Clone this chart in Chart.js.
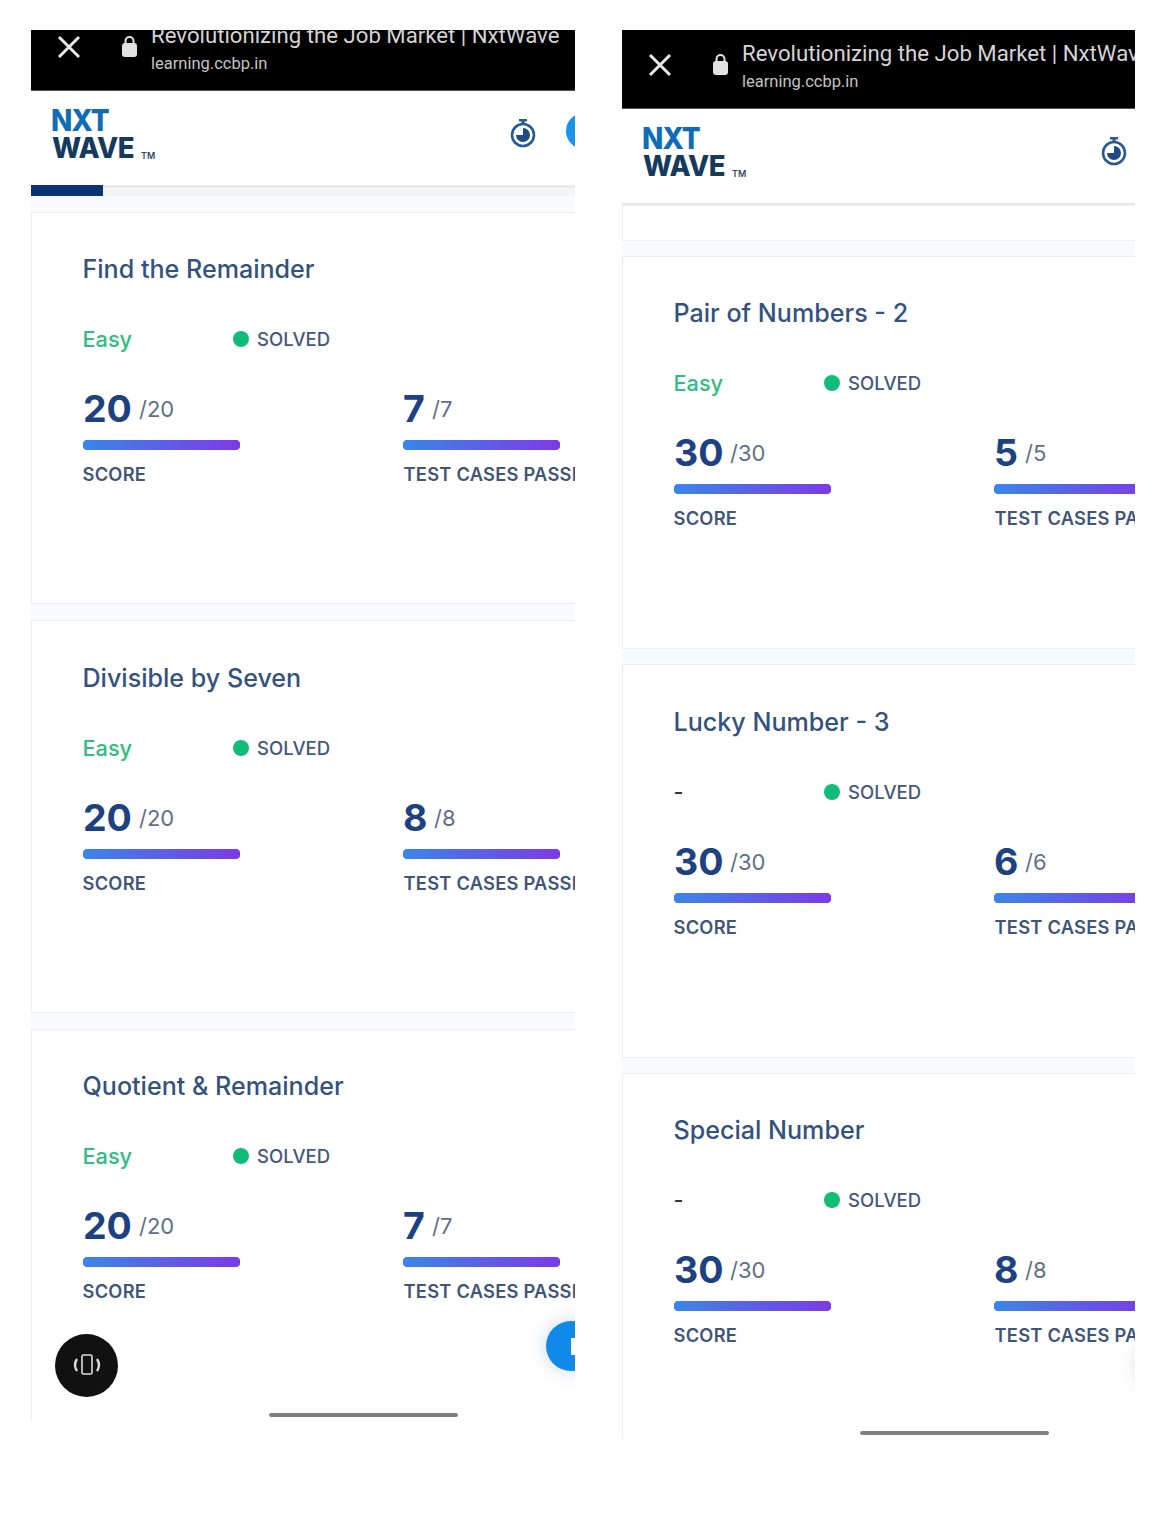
<!DOCTYPE html>
<html>
<head>
<meta charset="utf-8">
<script src="https://cdn.jsdelivr.net/npm/chart.js@4"></script>
<style>
html, body { margin: 0; padding: 0; background: #fff; }
body { width: 1164px; height: 1536px; position: relative; overflow: hidden; font-family: Inter, sans-serif; }
.panel { position: absolute; top: 30px; background: #f8fafe; overflow: hidden; filter: blur(0.55px); }
.panel div, .panel canvas, .panel svg { position: absolute; }
.t { white-space: nowrap; line-height: 1; }
.topbar { left: 0; top: 0; background: #000; border-bottom: 1px solid #555; box-sizing: border-box; }
.header { left: 0; background: #fff; }
.card { background: #fff; border: 1px solid #eaeff8; box-sizing: border-box; }
.title { font-size: 25.1px; font-weight: 500; color: #34527f; }
.level { font-size: 21.7px; font-weight: 500; color: #2fbd83; }
.solved { font-size: 18.5px; font-weight: 500; color: #44587c; letter-spacing: 0.05px; }
.dot { width: 16px; height: 16px; border-radius: 50%; background: #10bd78; }
.num { font-size: 37.5px; font-weight: 700; color: #1d4282; }
.den { font-size: 22px; color: #5f6f88; font-weight: 400; }
.cap { font-size: 18.3px; font-weight: 600; color: #3f5679; letter-spacing: 0.25px; }
.pagetitle { font-family: Roboto, sans-serif; font-size: 22.2px; color: #d4d4d4; }
.url { font-family: Roboto, sans-serif; font-size: 16.5px; color: #c4c4c4; }
.logo1 { font-size: 30px; font-weight: 800; color: #0f6db8; letter-spacing: -1px; transform: scaleX(0.93); transform-origin: left; line-height: 0.75; }
.logo2 { font-size: 29px; font-weight: 800; color: #143a5e; letter-spacing: -0.5px; transform: scaleX(0.95); transform-origin: left; line-height: 0.75; }
.tm { font-size: 9px; font-weight: 600; color: #33475f; }
.home { background: #808080; border-radius: 3px; height: 4px; width: 189px; }
</style>
</head>
<body>
<script>
// card data
const titles = ["Find the Remainder", "Divisible by Seven", "Quotient & Remainder", "Pair of Numbers - 2", "Lucky Number - 3", "Special Number"];
const levels = ["Easy", "Easy", "Easy", "Easy", "-", "-"];
const scores = [20, 20, 20, 30, 30, 30];
const scoreTotals = [20, 20, 20, 30, 30, 30];
const casesPassed = [7, 8, 7, 5, 6, 8];
const casesTotals = [7, 8, 7, 5, 6, 8];
const scoreLabel = "SCORE";
const casesLabel = "TEST CASES PASSED";
const statusLabel = "SOLVED";
const pageTitle = "Revolutionizing the Job Market | NxtWave";
const pageUrl = "learning.ccbp.in";

function add(parent, cls, css, text) {
    const el = document.createElement("div");
    el.className = cls;
    el.style.cssText = css;
    if (text !== undefined) el.textContent = text;
    parent.appendChild(el);
    return el;
}

function addSvg(parent, x, y, w, h, inner) {
    const holder = document.createElement("div");
    holder.style.cssText = `left:${x}px;top:${y}px;width:${w}px;height:${h}px`;
    holder.innerHTML = `<svg width="${w}" height="${h}" viewBox="0 0 ${w} ${h}" style="left:0;top:0">${inner}</svg>`;
    parent.appendChild(holder);
}

function progressBar(parent, x, y, value, total) {
    const canvas = document.createElement("canvas");
    canvas.style.cssText = `left:${x}px;top:${y}px;width:157px;height:10px`;
    canvas.width = 157;
    canvas.height = 10;
    parent.appendChild(canvas);
    new Chart(canvas, {
        type: "bar",
        data: {
            labels: [""],
            datasets: [{
                data: [value],
                barPercentage: 1,
                categoryPercentage: 1,
                borderRadius: 5,
                borderSkipped: false,
                backgroundColor: function(ctx) {
                    const area = ctx.chart.chartArea;
                    if (!area) return "#3b82e8";
                    const g = ctx.chart.ctx.createLinearGradient(area.left, 0, area.right, 0);
                    g.addColorStop(0, "#3a86e8");
                    g.addColorStop(1, "#7d3ae6");
                    return g;
                }
            }]
        },
        options: {
            indexAxis: "y",
            responsive: false,
            animation: false,
            layout: { padding: 0 },
            plugins: { legend: { display: false }, tooltip: { enabled: false } },
            scales: {
                x: { display: false, min: 0, max: total },
                y: { display: false }
            }
        }
    });
}

function addCard(panel, i, top, height, shift) {
    add(panel, "card", `left:0;top:${top}px;width:600px;height:${height}px`);
    const y = top + shift;
    add(panel, "t title", `left:51.5px;top:${y + 45}px`, titles[i]);
    const levelCss = levels[i] === "-" ? "color:#333;" : "";
    add(panel, "t level", `${levelCss}left:51.5px;top:${y + 116.5}px`, levels[i]);
    add(panel, "dot", `left:202px;top:${y + 119}px`);
    add(panel, "t solved", `left:226px;top:${y + 118}px`, statusLabel);

    add(panel, "t num", `left:52px;top:${y + 178}px`, scores[i]);
    add(panel, "t den", `left:108px;top:${y + 186}px`, "/" + scoreTotals[i]);
    progressBar(panel, 52, y + 228, scores[i], scoreTotals[i]);
    add(panel, "t cap", `left:51.5px;top:${y + 253}px`, scoreLabel);

    add(panel, "t num", `left:372px;top:${y + 178}px`, casesPassed[i]);
    add(panel, "t den", `left:${casesPassed[i] === 7 ? 401 : 403}px;top:${y + 186}px`, "/" + casesTotals[i]);
    progressBar(panel, 372, y + 228, casesPassed[i], casesTotals[i]);
    add(panel, "t cap", `left:372.5px;top:${y + 253}px`, casesLabel);
}

function addChrome(panel, barH) {
    add(panel, "topbar", `width:100%;height:${barH + 1}px`);
    const cy = barH - 44;
    addSvg(panel, 26, cy - 12 + 1, 24, 24, '<path d="M2 2 L22 22 M22 2 L2 22" stroke="#e8e8e8" stroke-width="3"/>');
    addSvg(panel, 90, cy - 12 + 1, 18, 24, '<rect x="1" y="8" width="15" height="14" rx="3" fill="#e2e2e2"/><path d="M4.5 9 V6 a4 4 0 0 1 8 0 V9" stroke="#e2e2e2" stroke-width="2" fill="none"/>');
    add(panel, "t pagetitle", `left:120px;top:${barH - 66}px`, pageTitle);
    add(panel, "t url", `left:120px;top:${barH - 34}px`, pageUrl);

    add(panel, "header", `top:${barH + 1}px;width:100%;height:94px`);
    add(panel, "t logo1", `left:20px;top:${barH + 19}px`, "NXT");
    add(panel, "t logo2", `left:20.5px;top:${barH + 47}px`, "WAVE");
    add(panel, "t tm", `left:110px;top:${barH + 61}px`, "TM");
    addSvg(panel, 479, barH + 28, 26, 32,
        '<rect x="9" y="1" width="8" height="2.5" fill="#2a5a92"/><rect x="11.5" y="3" width="3" height="3" fill="#2a5a92"/>' +
        '<circle cx="13" cy="17" r="11" fill="none" stroke="#2a5a92" stroke-width="2.6"/>' +
        '<path d="M13 17 V10 A7 7 0 1 1 6 17 Z" fill="#1f4a86"/>');
}

const left = add(document.body, "panel", "left:31px;width:544px;height:1391px");
addChrome(left, 60);
add(left, "", "left:0;top:155px;width:100%;height:3px;background:#e8e8e8");
add(left, "", "left:0;top:155px;width:72px;height:11px;background:#0b3272");
add(left, "", "left:0;top:158px;width:100%;height:8px;background:#f2f4f7;z-index:-1");
addCard(left, 0, 182, 392, 0);
addCard(left, 1, 590, 393, 1);
addCard(left, 2, 999, 500, 0);
add(left, "", "left:535px;top:83px;width:36px;height:36px;border-radius:50%;background:#1a93ea");
add(left, "", "left:515px;top:1291px;width:50px;height:50px;border-radius:50%;background:#0f8ae8;box-shadow:0 0 18px rgba(60,90,140,.25)");
add(left, "", "left:540px;top:1308px;width:6px;height:17px;background:#fff");
add(left, "", "left:24px;top:1304px;width:63px;height:63px;border-radius:50%;background:#111");
addSvg(left, 40, 1322, 32, 26,
    '<rect x="11" y="3" width="10" height="19" rx="1.5" fill="none" stroke="#ddd" stroke-width="1.6"/>' +
    '<path d="M6 7 Q2 13 6 19 M26 7 Q30 13 26 19" fill="none" stroke="#ddd" stroke-width="2.4"/>');
add(left, "home", "left:238px;top:1383px");

const right = add(document.body, "panel", "left:622px;width:513px;height:1409px");
addChrome(right, 78);
add(right, "", "left:0;top:173px;width:100%;height:3px;background:#e8e8e8");
add(right, "card", "left:0;top:175px;width:600px;height:36px");
addCard(right, 3, 226, 393, 0);
addCard(right, 4, 634, 394, 1);
addCard(right, 5, 1043, 500, 0);
add(right, "", "left:522px;top:1310px;width:50px;height:50px;border-radius:50%;background:#fff;box-shadow:0 0 22px rgba(60,80,120,.5)");
add(right, "home", "left:238px;top:1401px");
</script>
</body>
</html>
